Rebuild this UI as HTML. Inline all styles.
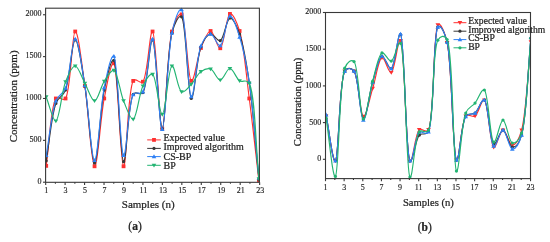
<!DOCTYPE html>
<html><head><meta charset="utf-8"><style>
html,body{margin:0;padding:0;background:#fff;width:550px;height:242px;overflow:hidden}
svg{display:block}
text{stroke:#222;stroke-width:0.22px;paint-order:stroke}
text.t{stroke:#222;stroke-width:0.15px;fill:#222}
</style></head><body>
<svg width="550" height="242" viewBox="0 0 550 242">
<rect width="550" height="242" fill="#fff"/>
<clipPath id="clipa"><rect x="45.60" y="5.20" width="213.80" height="177.10"/></clipPath>
<g clip-path="url(#clipa)">
<path d="M46.20,165.87 C49.42,143.41 50.55,106.02 55.87,98.48 C58.56,94.67 62.85,102.28 65.54,98.48 C70.85,90.98 71.86,32.19 75.21,31.50 C78.33,30.86 81.84,65.31 84.88,85.92 C88.35,109.48 91.23,165.62 94.55,166.29 C97.68,166.93 100.56,116.65 104.22,98.48 C107.16,83.91 111.07,60.47 113.89,63.32 C117.95,67.42 120.23,165.36 123.56,166.29 C126.69,167.16 127.49,89.54 133.23,80.90 C135.91,76.87 140.19,84.91 142.90,81.74 C147.75,76.05 149.64,29.36 152.57,31.50 C156.25,34.19 159.02,128.62 162.24,128.62 C165.46,128.62 167.15,49.65 171.91,31.50 C174.63,21.14 178.80,12.12 181.58,14.34 C185.85,17.76 187.55,78.86 191.25,80.90 C194.17,82.51 197.31,56.73 200.92,48.00 C203.88,40.82 207.37,30.98 210.59,31.00 C213.82,31.02 217.31,49.25 220.26,48.25 C223.89,47.01 226.29,15.17 229.93,13.92 C232.88,12.91 236.82,21.83 239.60,31.00 C243.89,45.18 246.15,74.46 249.27,98.48 C252.61,124.22 255.72,153.46 258.94,180.94" fill="none" stroke="#ff3030" stroke-width="1.15" stroke-linejoin="round"/>
<rect x="44.30" y="163.97" width="3.80" height="3.80" fill="#ff3030"/>
<rect x="53.97" y="96.58" width="3.80" height="3.80" fill="#ff3030"/>
<rect x="63.64" y="96.58" width="3.80" height="3.80" fill="#ff3030"/>
<rect x="73.31" y="29.60" width="3.80" height="3.80" fill="#ff3030"/>
<rect x="82.98" y="84.02" width="3.80" height="3.80" fill="#ff3030"/>
<rect x="92.65" y="164.39" width="3.80" height="3.80" fill="#ff3030"/>
<rect x="102.32" y="96.58" width="3.80" height="3.80" fill="#ff3030"/>
<rect x="111.99" y="61.42" width="3.80" height="3.80" fill="#ff3030"/>
<rect x="121.66" y="164.39" width="3.80" height="3.80" fill="#ff3030"/>
<rect x="131.33" y="79.00" width="3.80" height="3.80" fill="#ff3030"/>
<rect x="141.00" y="79.84" width="3.80" height="3.80" fill="#ff3030"/>
<rect x="150.67" y="29.60" width="3.80" height="3.80" fill="#ff3030"/>
<rect x="160.34" y="126.72" width="3.80" height="3.80" fill="#ff3030"/>
<rect x="170.01" y="29.60" width="3.80" height="3.80" fill="#ff3030"/>
<rect x="179.68" y="12.44" width="3.80" height="3.80" fill="#ff3030"/>
<rect x="189.35" y="79.00" width="3.80" height="3.80" fill="#ff3030"/>
<rect x="199.02" y="46.10" width="3.80" height="3.80" fill="#ff3030"/>
<rect x="208.69" y="29.10" width="3.80" height="3.80" fill="#ff3030"/>
<rect x="218.36" y="46.35" width="3.80" height="3.80" fill="#ff3030"/>
<rect x="228.03" y="12.02" width="3.80" height="3.80" fill="#ff3030"/>
<rect x="237.70" y="29.10" width="3.80" height="3.80" fill="#ff3030"/>
<rect x="247.37" y="96.58" width="3.80" height="3.80" fill="#ff3030"/>
<rect x="257.04" y="179.04" width="3.80" height="3.80" fill="#ff3030"/>
<path d="M46.20,160.85 C49.42,141.74 51.56,115.21 55.87,103.50 C58.64,95.97 62.74,97.31 65.54,90.11 C69.70,79.41 71.94,40.11 75.21,39.88 C78.39,39.65 81.89,67.74 84.88,85.92 C88.44,107.58 91.30,162.73 94.55,162.94 C97.74,163.16 100.35,108.12 104.22,90.11 C107.09,76.76 111.10,57.46 113.89,60.39 C118.11,64.82 120.08,159.83 123.56,161.69 C126.59,163.31 127.93,102.59 133.23,94.29 C135.92,90.08 140.19,96.43 142.90,92.62 C147.81,85.72 149.59,38.18 152.57,39.88 C156.14,41.91 159.06,128.96 162.24,128.62 C165.50,128.27 167.12,50.81 171.91,33.18 C174.63,23.18 178.84,14.16 181.58,16.85 C186.16,21.36 187.73,96.78 191.25,98.48 C194.26,99.93 196.71,57.76 200.92,46.99 C203.71,39.86 207.17,34.74 210.59,34.02 C213.65,33.37 217.36,41.99 220.26,40.71 C224.02,39.06 226.53,18.63 229.93,18.11 C233.01,17.64 236.76,26.14 239.60,34.02 C243.59,45.10 246.35,62.27 249.27,82.57 C252.98,108.32 255.72,147.32 258.94,179.69" fill="none" stroke="#383838" stroke-width="1.15" stroke-linejoin="round"/>
<circle cx="46.20" cy="160.85" r="1.60" fill="#383838"/>
<circle cx="55.87" cy="103.50" r="1.60" fill="#383838"/>
<circle cx="65.54" cy="90.11" r="1.60" fill="#383838"/>
<circle cx="75.21" cy="39.88" r="1.60" fill="#383838"/>
<circle cx="84.88" cy="85.92" r="1.60" fill="#383838"/>
<circle cx="94.55" cy="162.94" r="1.60" fill="#383838"/>
<circle cx="104.22" cy="90.11" r="1.60" fill="#383838"/>
<circle cx="113.89" cy="60.39" r="1.60" fill="#383838"/>
<circle cx="123.56" cy="161.69" r="1.60" fill="#383838"/>
<circle cx="133.23" cy="94.29" r="1.60" fill="#383838"/>
<circle cx="142.90" cy="92.62" r="1.60" fill="#383838"/>
<circle cx="152.57" cy="39.88" r="1.60" fill="#383838"/>
<circle cx="162.24" cy="128.62" r="1.60" fill="#383838"/>
<circle cx="171.91" cy="33.18" r="1.60" fill="#383838"/>
<circle cx="181.58" cy="16.85" r="1.60" fill="#383838"/>
<circle cx="191.25" cy="98.48" r="1.60" fill="#383838"/>
<circle cx="200.92" cy="46.99" r="1.60" fill="#383838"/>
<circle cx="210.59" cy="34.02" r="1.60" fill="#383838"/>
<circle cx="220.26" cy="40.71" r="1.60" fill="#383838"/>
<circle cx="229.93" cy="18.11" r="1.60" fill="#383838"/>
<circle cx="239.60" cy="34.02" r="1.60" fill="#383838"/>
<circle cx="249.27" cy="82.57" r="1.60" fill="#383838"/>
<circle cx="258.94" cy="179.69" r="1.60" fill="#383838"/>
<path d="M46.20,155.41 C49.42,137.27 51.59,112.12 55.87,100.99 C58.65,93.77 62.74,95.16 65.54,88.18 C69.71,77.80 71.96,39.19 75.21,39.04 C78.40,38.89 81.88,67.39 84.88,85.50 C88.41,106.80 91.31,160.16 94.55,160.27 C97.76,160.37 100.40,105.91 104.22,87.60 C107.10,73.76 111.09,53.38 113.89,56.20 C118.03,60.37 120.01,153.26 123.56,155.41 C126.55,157.22 128.15,102.93 133.23,94.71 C135.93,90.34 140.19,95.92 142.90,91.78 C147.77,84.36 149.59,37.27 152.57,39.04 C156.15,41.17 159.05,129.77 162.24,129.46 C165.50,129.14 167.49,52.92 171.91,32.93 C174.67,20.47 178.80,7.08 181.58,9.74 C185.88,13.85 187.67,94.66 191.25,96.72 C194.23,98.43 196.67,56.36 200.92,45.99 C203.70,39.20 207.36,34.04 210.59,34.02 C213.81,33.99 217.35,46.90 220.26,45.74 C224.00,44.23 226.52,16.61 229.93,16.02 C233.00,15.48 236.68,27.91 239.60,37.03 C243.32,48.64 246.37,62.90 249.27,82.15 C253.03,107.06 255.72,146.06 258.94,178.01" fill="none" stroke="#2e80f5" stroke-width="1.15" stroke-linejoin="round"/>
<path d="M46.20,153.11 L48.50,157.02 L43.90,157.02 Z" fill="#2e80f5"/>
<path d="M55.87,98.69 L58.17,102.60 L53.57,102.60 Z" fill="#2e80f5"/>
<path d="M65.54,85.88 L67.84,89.79 L63.24,89.79 Z" fill="#2e80f5"/>
<path d="M75.21,36.74 L77.51,40.65 L72.91,40.65 Z" fill="#2e80f5"/>
<path d="M84.88,83.20 L87.18,87.11 L82.58,87.11 Z" fill="#2e80f5"/>
<path d="M94.55,157.97 L96.85,161.88 L92.25,161.88 Z" fill="#2e80f5"/>
<path d="M104.22,85.30 L106.52,89.21 L101.92,89.21 Z" fill="#2e80f5"/>
<path d="M113.89,53.90 L116.19,57.81 L111.59,57.81 Z" fill="#2e80f5"/>
<path d="M123.56,153.11 L125.86,157.02 L121.26,157.02 Z" fill="#2e80f5"/>
<path d="M133.23,92.41 L135.53,96.32 L130.93,96.32 Z" fill="#2e80f5"/>
<path d="M142.90,89.48 L145.20,93.39 L140.60,93.39 Z" fill="#2e80f5"/>
<path d="M152.57,36.74 L154.87,40.65 L150.27,40.65 Z" fill="#2e80f5"/>
<path d="M162.24,127.16 L164.54,131.07 L159.94,131.07 Z" fill="#2e80f5"/>
<path d="M171.91,30.63 L174.21,34.54 L169.61,34.54 Z" fill="#2e80f5"/>
<path d="M181.58,7.44 L183.88,11.35 L179.28,11.35 Z" fill="#2e80f5"/>
<path d="M191.25,94.42 L193.55,98.33 L188.95,98.33 Z" fill="#2e80f5"/>
<path d="M200.92,43.69 L203.22,47.60 L198.62,47.60 Z" fill="#2e80f5"/>
<path d="M210.59,31.72 L212.89,35.63 L208.29,35.63 Z" fill="#2e80f5"/>
<path d="M220.26,43.44 L222.56,47.35 L217.96,47.35 Z" fill="#2e80f5"/>
<path d="M229.93,13.72 L232.23,17.63 L227.63,17.63 Z" fill="#2e80f5"/>
<path d="M239.60,34.73 L241.90,38.64 L237.30,38.64 Z" fill="#2e80f5"/>
<path d="M249.27,79.85 L251.57,83.76 L246.97,83.76 Z" fill="#2e80f5"/>
<path d="M258.94,175.71 L261.24,179.62 L256.64,179.62 Z" fill="#2e80f5"/>
<path d="M46.20,96.97 C49.42,104.98 52.86,121.85 55.87,121.00 C59.39,120.01 61.74,91.31 65.54,81.74 C68.43,74.46 72.03,65.87 75.21,66.00 C78.47,66.13 81.66,77.53 84.88,83.33 C88.11,89.14 91.37,100.97 94.55,100.82 C97.82,100.67 100.74,86.58 104.22,81.32 C107.25,76.75 111.00,69.17 113.89,70.43 C117.69,72.10 120.06,92.31 123.56,100.82 C126.58,108.16 130.25,120.12 133.23,119.24 C136.80,118.19 139.06,93.71 142.90,86.01 C145.78,80.24 149.74,72.76 152.57,74.37 C156.59,76.65 159.11,114.84 162.24,114.39 C165.57,113.91 168.28,67.43 171.91,66.00 C174.87,64.82 177.75,89.99 181.58,91.78 C184.46,93.13 188.16,87.40 191.25,84.25 C194.63,80.80 197.39,74.09 200.92,71.61 C203.92,69.49 207.56,67.97 210.59,69.01 C214.06,70.20 217.05,80.11 220.26,80.06 C223.50,80.01 226.73,68.44 229.93,68.51 C233.18,68.58 236.08,78.38 239.60,80.82 C242.61,82.90 246.60,78.32 249.27,83.41 C255.17,94.65 255.72,147.04 258.94,178.85" fill="none" stroke="#22b472" stroke-width="1.15" stroke-linejoin="round"/>
<path d="M46.20,99.27 L48.50,95.36 L43.90,95.36 Z" fill="#22b472"/>
<path d="M55.87,123.30 L58.17,119.39 L53.57,119.39 Z" fill="#22b472"/>
<path d="M65.54,84.04 L67.84,80.13 L63.24,80.13 Z" fill="#22b472"/>
<path d="M75.21,68.30 L77.51,64.39 L72.91,64.39 Z" fill="#22b472"/>
<path d="M84.88,85.63 L87.18,81.72 L82.58,81.72 Z" fill="#22b472"/>
<path d="M94.55,103.12 L96.85,99.21 L92.25,99.21 Z" fill="#22b472"/>
<path d="M104.22,83.62 L106.52,79.71 L101.92,79.71 Z" fill="#22b472"/>
<path d="M113.89,72.73 L116.19,68.82 L111.59,68.82 Z" fill="#22b472"/>
<path d="M123.56,103.12 L125.86,99.21 L121.26,99.21 Z" fill="#22b472"/>
<path d="M133.23,121.54 L135.53,117.63 L130.93,117.63 Z" fill="#22b472"/>
<path d="M142.90,88.31 L145.20,84.40 L140.60,84.40 Z" fill="#22b472"/>
<path d="M152.57,76.67 L154.87,72.76 L150.27,72.76 Z" fill="#22b472"/>
<path d="M162.24,116.69 L164.54,112.78 L159.94,112.78 Z" fill="#22b472"/>
<path d="M171.91,68.30 L174.21,64.39 L169.61,64.39 Z" fill="#22b472"/>
<path d="M181.58,94.08 L183.88,90.17 L179.28,90.17 Z" fill="#22b472"/>
<path d="M191.25,86.55 L193.55,82.64 L188.95,82.64 Z" fill="#22b472"/>
<path d="M200.92,73.91 L203.22,70.00 L198.62,70.00 Z" fill="#22b472"/>
<path d="M210.59,71.31 L212.89,67.40 L208.29,67.40 Z" fill="#22b472"/>
<path d="M220.26,82.36 L222.56,78.45 L217.96,78.45 Z" fill="#22b472"/>
<path d="M229.93,70.81 L232.23,66.90 L227.63,66.90 Z" fill="#22b472"/>
<path d="M239.60,83.12 L241.90,79.21 L237.30,79.21 Z" fill="#22b472"/>
<path d="M249.27,85.71 L251.57,81.80 L246.97,81.80 Z" fill="#22b472"/>
<path d="M258.94,181.15 L261.24,177.24 L256.64,177.24 Z" fill="#22b472"/>
</g>
<clipPath id="clipb"><rect x="325.50" y="9.50" width="205.00" height="169.10"/></clipPath>
<g clip-path="url(#clipb)">
<path d="M326.10,115.99 C329.20,130.92 332.60,162.81 335.41,160.77 C338.98,158.18 339.02,80.51 344.72,71.22 C347.29,67.02 351.41,68.09 354.03,71.22 C358.62,76.69 359.95,115.30 363.34,116.36 C366.24,117.27 369.59,98.07 372.65,88.47 C375.80,78.57 378.45,58.99 381.96,57.79 C384.80,56.81 388.45,73.58 391.27,72.54 C394.81,71.24 397.91,37.10 400.58,40.54 C404.76,45.94 405.68,155.53 409.89,160.99 C412.55,164.44 415.06,133.81 419.20,129.72 C421.87,127.09 425.94,134.20 428.51,129.72 C434.52,119.25 433.14,30.75 437.82,24.98 C440.43,21.75 444.53,31.43 447.13,42.59 C451.98,63.39 452.61,155.71 456.44,160.03 C459.17,163.12 461.20,121.43 465.75,116.07 C468.37,112.98 472.25,117.92 475.06,116.07 C478.64,113.71 481.63,98.41 484.37,99.99 C488.19,102.20 489.91,145.01 493.68,147.12 C496.43,148.65 499.83,130.25 502.99,130.09 C506.04,129.93 509.20,145.13 512.30,145.13 C515.40,145.13 518.99,139.35 521.61,130.09 C526.21,113.80 527.82,71.27 530.92,41.86" fill="none" stroke="#ff3030" stroke-width="1.15" stroke-linejoin="round"/>
<path d="M326.10,118.29 L328.40,114.38 L323.80,114.38 Z" fill="#ff3030"/>
<path d="M335.41,163.07 L337.71,159.16 L333.11,159.16 Z" fill="#ff3030"/>
<path d="M344.72,73.52 L347.02,69.61 L342.42,69.61 Z" fill="#ff3030"/>
<path d="M354.03,73.52 L356.33,69.61 L351.73,69.61 Z" fill="#ff3030"/>
<path d="M363.34,118.66 L365.64,114.75 L361.04,114.75 Z" fill="#ff3030"/>
<path d="M372.65,90.77 L374.95,86.86 L370.35,86.86 Z" fill="#ff3030"/>
<path d="M381.96,60.09 L384.26,56.18 L379.66,56.18 Z" fill="#ff3030"/>
<path d="M391.27,74.84 L393.57,70.93 L388.97,70.93 Z" fill="#ff3030"/>
<path d="M400.58,42.84 L402.88,38.93 L398.28,38.93 Z" fill="#ff3030"/>
<path d="M409.89,163.29 L412.19,159.38 L407.59,159.38 Z" fill="#ff3030"/>
<path d="M419.20,132.02 L421.50,128.11 L416.90,128.11 Z" fill="#ff3030"/>
<path d="M428.51,132.02 L430.81,128.11 L426.21,128.11 Z" fill="#ff3030"/>
<path d="M437.82,27.28 L440.12,23.37 L435.52,23.37 Z" fill="#ff3030"/>
<path d="M447.13,44.89 L449.43,40.98 L444.83,40.98 Z" fill="#ff3030"/>
<path d="M456.44,162.33 L458.74,158.42 L454.14,158.42 Z" fill="#ff3030"/>
<path d="M465.75,118.37 L468.05,114.46 L463.45,114.46 Z" fill="#ff3030"/>
<path d="M475.06,118.37 L477.36,114.46 L472.76,114.46 Z" fill="#ff3030"/>
<path d="M484.37,102.29 L486.67,98.38 L482.07,98.38 Z" fill="#ff3030"/>
<path d="M493.68,149.42 L495.98,145.51 L491.38,145.51 Z" fill="#ff3030"/>
<path d="M502.99,132.39 L505.29,128.48 L500.69,128.48 Z" fill="#ff3030"/>
<path d="M512.30,147.43 L514.60,143.52 L510.00,143.52 Z" fill="#ff3030"/>
<path d="M521.61,132.39 L523.91,128.48 L519.31,128.48 Z" fill="#ff3030"/>
<path d="M530.92,44.16 L533.22,40.25 L528.62,40.25 Z" fill="#ff3030"/>
<path d="M326.10,115.26 C329.20,130.43 332.59,162.78 335.41,160.77 C338.96,158.23 339.02,80.51 344.72,71.22 C347.29,67.02 351.42,68.02 354.03,71.22 C358.69,76.93 360.09,118.29 363.34,118.93 C366.32,119.51 369.36,93.11 372.65,82.23 C375.60,72.49 378.48,57.35 381.96,56.25 C384.81,55.34 388.50,70.01 391.27,68.72 C394.97,67.01 397.91,30.94 400.58,34.52 C404.75,40.11 405.40,154.70 409.89,160.99 C412.52,164.67 415.34,139.92 419.20,135.22 C421.93,131.91 425.94,136.77 428.51,131.11 C434.32,118.32 432.99,33.06 437.82,27.03 C440.42,23.79 444.54,31.99 447.13,42.23 C452.16,62.07 452.61,155.69 456.44,160.03 C459.17,163.13 461.27,122.56 465.75,116.07 C468.38,112.26 472.18,115.28 475.06,113.06 C478.48,110.42 481.65,98.36 484.37,99.99 C488.27,102.34 489.83,141.79 493.68,144.03 C496.41,145.62 499.96,129.84 502.99,130.09 C506.18,130.34 509.05,146.68 512.30,147.12 C515.28,147.52 519.02,143.50 521.61,135.08 C526.58,118.95 527.82,70.49 530.92,38.19" fill="none" stroke="#383838" stroke-width="1.15" stroke-linejoin="round"/>
<circle cx="326.10" cy="115.26" r="1.60" fill="#383838"/>
<circle cx="335.41" cy="160.77" r="1.60" fill="#383838"/>
<circle cx="344.72" cy="71.22" r="1.60" fill="#383838"/>
<circle cx="354.03" cy="71.22" r="1.60" fill="#383838"/>
<circle cx="363.34" cy="118.93" r="1.60" fill="#383838"/>
<circle cx="372.65" cy="82.23" r="1.60" fill="#383838"/>
<circle cx="381.96" cy="56.25" r="1.60" fill="#383838"/>
<circle cx="391.27" cy="68.72" r="1.60" fill="#383838"/>
<circle cx="400.58" cy="34.52" r="1.60" fill="#383838"/>
<circle cx="409.89" cy="160.99" r="1.60" fill="#383838"/>
<circle cx="419.20" cy="135.22" r="1.60" fill="#383838"/>
<circle cx="428.51" cy="131.11" r="1.60" fill="#383838"/>
<circle cx="437.82" cy="27.03" r="1.60" fill="#383838"/>
<circle cx="447.13" cy="42.23" r="1.60" fill="#383838"/>
<circle cx="456.44" cy="160.03" r="1.60" fill="#383838"/>
<circle cx="465.75" cy="116.07" r="1.60" fill="#383838"/>
<circle cx="475.06" cy="113.06" r="1.60" fill="#383838"/>
<circle cx="484.37" cy="99.99" r="1.60" fill="#383838"/>
<circle cx="493.68" cy="144.03" r="1.60" fill="#383838"/>
<circle cx="502.99" cy="130.09" r="1.60" fill="#383838"/>
<circle cx="512.30" cy="147.12" r="1.60" fill="#383838"/>
<circle cx="521.61" cy="135.08" r="1.60" fill="#383838"/>
<circle cx="530.92" cy="38.19" r="1.60" fill="#383838"/>
<path d="M326.10,114.89 C329.20,130.26 332.59,162.98 335.41,160.99 C338.95,158.49 339.03,80.84 344.72,71.44 C347.29,67.19 351.42,68.03 354.03,71.22 C358.73,76.97 360.09,119.55 363.34,120.18 C366.32,120.76 369.33,93.36 372.65,82.23 C375.59,72.38 378.48,57.35 381.96,56.25 C384.81,55.34 388.50,70.03 391.27,68.72 C394.98,66.97 397.91,30.42 400.58,34.01 C404.74,39.59 405.51,154.91 409.89,160.99 C412.53,164.66 415.15,136.39 419.20,132.44 C421.89,129.81 425.94,136.53 428.51,131.92 C434.52,121.16 432.98,33.11 437.82,27.03 C440.42,23.77 444.54,31.99 447.13,42.23 C452.16,62.07 452.60,155.65 456.44,160.03 C459.17,163.14 461.31,123.21 465.75,116.58 C468.38,112.65 472.18,115.38 475.06,113.06 C478.47,110.31 481.66,98.28 484.37,99.99 C488.31,102.48 489.88,143.94 493.68,146.09 C496.42,147.64 499.95,129.87 502.99,130.09 C506.17,130.31 509.06,148.62 512.30,149.02 C515.29,149.40 519.01,144.24 521.61,135.08 C526.44,118.08 527.82,70.00 530.92,37.46" fill="none" stroke="#2e80f5" stroke-width="1.15" stroke-linejoin="round"/>
<path d="M326.10,112.59 L328.40,116.50 L323.80,116.50 Z" fill="#2e80f5"/>
<path d="M335.41,158.69 L337.71,162.60 L333.11,162.60 Z" fill="#2e80f5"/>
<path d="M344.72,69.14 L347.02,73.05 L342.42,73.05 Z" fill="#2e80f5"/>
<path d="M354.03,68.92 L356.33,72.83 L351.73,72.83 Z" fill="#2e80f5"/>
<path d="M363.34,117.88 L365.64,121.79 L361.04,121.79 Z" fill="#2e80f5"/>
<path d="M372.65,79.93 L374.95,83.84 L370.35,83.84 Z" fill="#2e80f5"/>
<path d="M381.96,53.95 L384.26,57.86 L379.66,57.86 Z" fill="#2e80f5"/>
<path d="M391.27,66.42 L393.57,70.33 L388.97,70.33 Z" fill="#2e80f5"/>
<path d="M400.58,31.71 L402.88,35.62 L398.28,35.62 Z" fill="#2e80f5"/>
<path d="M409.89,158.69 L412.19,162.60 L407.59,162.60 Z" fill="#2e80f5"/>
<path d="M419.20,130.14 L421.50,134.05 L416.90,134.05 Z" fill="#2e80f5"/>
<path d="M428.51,129.62 L430.81,133.53 L426.21,133.53 Z" fill="#2e80f5"/>
<path d="M437.82,24.73 L440.12,28.64 L435.52,28.64 Z" fill="#2e80f5"/>
<path d="M447.13,39.93 L449.43,43.84 L444.83,43.84 Z" fill="#2e80f5"/>
<path d="M456.44,157.73 L458.74,161.64 L454.14,161.64 Z" fill="#2e80f5"/>
<path d="M465.75,114.28 L468.05,118.19 L463.45,118.19 Z" fill="#2e80f5"/>
<path d="M475.06,110.76 L477.36,114.67 L472.76,114.67 Z" fill="#2e80f5"/>
<path d="M484.37,97.69 L486.67,101.60 L482.07,101.60 Z" fill="#2e80f5"/>
<path d="M493.68,143.79 L495.98,147.70 L491.38,147.70 Z" fill="#2e80f5"/>
<path d="M502.99,127.79 L505.29,131.70 L500.69,131.70 Z" fill="#2e80f5"/>
<path d="M512.30,146.72 L514.60,150.63 L510.00,150.63 Z" fill="#2e80f5"/>
<path d="M521.61,132.78 L523.91,136.69 L519.31,136.69 Z" fill="#2e80f5"/>
<path d="M530.92,35.16 L533.22,39.07 L528.62,39.07 Z" fill="#2e80f5"/>
<path d="M326.10,118.20 C329.20,137.60 332.57,178.68 335.41,176.40 C338.92,173.58 339.06,82.81 344.72,68.21 C347.29,61.57 351.41,59.10 354.03,61.60 C358.66,66.03 359.99,117.87 363.34,119.00 C366.26,119.99 369.38,92.56 372.65,81.13 C375.62,70.74 378.22,54.80 381.96,52.94 C384.72,51.58 388.39,61.91 391.27,61.09 C394.68,60.12 397.99,39.45 400.58,43.33 C405.62,50.86 405.95,171.77 409.89,176.99 C412.60,180.58 414.64,138.08 419.20,131.92 C421.82,128.38 425.94,134.76 428.51,130.09 C434.18,119.80 432.12,49.83 437.82,40.17 C440.39,35.81 444.56,34.75 447.13,39.51 C453.63,51.55 452.76,166.83 456.44,171.04 C459.21,174.22 461.35,123.77 465.75,113.06 C468.39,106.63 472.04,106.79 475.06,103.08 C478.26,99.15 481.69,88.10 484.37,90.01 C488.44,92.91 490.01,140.08 493.68,142.05 C496.46,143.54 499.91,120.04 502.99,120.10 C506.11,120.17 508.80,141.83 512.30,143.01 C515.14,143.95 519.02,140.66 521.61,133.10 C526.73,118.13 527.82,69.83 530.92,38.19" fill="none" stroke="#22b472" stroke-width="1.15" stroke-linejoin="round"/>
<circle cx="326.10" cy="118.20" r="1.60" fill="#22b472"/>
<circle cx="335.41" cy="176.40" r="1.60" fill="#22b472"/>
<circle cx="344.72" cy="68.21" r="1.60" fill="#22b472"/>
<circle cx="354.03" cy="61.60" r="1.60" fill="#22b472"/>
<circle cx="363.34" cy="119.00" r="1.60" fill="#22b472"/>
<circle cx="372.65" cy="81.13" r="1.60" fill="#22b472"/>
<circle cx="381.96" cy="52.94" r="1.60" fill="#22b472"/>
<circle cx="391.27" cy="61.09" r="1.60" fill="#22b472"/>
<circle cx="400.58" cy="43.33" r="1.60" fill="#22b472"/>
<circle cx="409.89" cy="176.99" r="1.60" fill="#22b472"/>
<circle cx="419.20" cy="131.92" r="1.60" fill="#22b472"/>
<circle cx="428.51" cy="130.09" r="1.60" fill="#22b472"/>
<circle cx="437.82" cy="40.17" r="1.60" fill="#22b472"/>
<circle cx="447.13" cy="39.51" r="1.60" fill="#22b472"/>
<circle cx="456.44" cy="171.04" r="1.60" fill="#22b472"/>
<circle cx="465.75" cy="113.06" r="1.60" fill="#22b472"/>
<circle cx="475.06" cy="103.08" r="1.60" fill="#22b472"/>
<circle cx="484.37" cy="90.01" r="1.60" fill="#22b472"/>
<circle cx="493.68" cy="142.05" r="1.60" fill="#22b472"/>
<circle cx="502.99" cy="120.10" r="1.60" fill="#22b472"/>
<circle cx="512.30" cy="143.01" r="1.60" fill="#22b472"/>
<circle cx="521.61" cy="133.10" r="1.60" fill="#22b472"/>
<circle cx="530.92" cy="38.19" r="1.60" fill="#22b472"/>
</g>
<g font-family="Liberation Serif, serif" fill="#222">
<rect x="45.60" y="8.20" width="213.80" height="174.10" fill="none" stroke="#383838" stroke-width="1.1"/>
<line x1="43.00" y1="182.20" x2="45.60" y2="182.20" stroke="#383838" stroke-width="1.1"/>
<text x="41.40" y="183.90" font-size="8" text-anchor="end" class="t">0</text>
<line x1="43.00" y1="140.34" x2="45.60" y2="140.34" stroke="#383838" stroke-width="1.1"/>
<text x="41.40" y="142.04" font-size="8" text-anchor="end" class="t">500</text>
<line x1="43.00" y1="98.48" x2="45.60" y2="98.48" stroke="#383838" stroke-width="1.1"/>
<text x="41.40" y="100.18" font-size="8" text-anchor="end" class="t">1000</text>
<line x1="43.00" y1="56.62" x2="45.60" y2="56.62" stroke="#383838" stroke-width="1.1"/>
<text x="41.40" y="58.32" font-size="8" text-anchor="end" class="t">1500</text>
<line x1="43.00" y1="14.76" x2="45.60" y2="14.76" stroke="#383838" stroke-width="1.1"/>
<text x="41.40" y="16.46" font-size="8" text-anchor="end" class="t">2000</text>
<line x1="45.67" y1="182.30" x2="45.67" y2="184.90" stroke="#383838" stroke-width="1.1"/>
<text x="46.17" y="192.80" font-size="8" text-anchor="middle" class="t">1</text>
<line x1="55.40" y1="182.30" x2="55.40" y2="183.70" stroke="#383838" stroke-width="1.1"/>
<line x1="65.12" y1="182.30" x2="65.12" y2="184.90" stroke="#383838" stroke-width="1.1"/>
<text x="65.62" y="192.80" font-size="8" text-anchor="middle" class="t">3</text>
<line x1="74.85" y1="182.30" x2="74.85" y2="183.70" stroke="#383838" stroke-width="1.1"/>
<line x1="84.57" y1="182.30" x2="84.57" y2="184.90" stroke="#383838" stroke-width="1.1"/>
<text x="85.07" y="192.80" font-size="8" text-anchor="middle" class="t">5</text>
<line x1="94.30" y1="182.30" x2="94.30" y2="183.70" stroke="#383838" stroke-width="1.1"/>
<line x1="104.03" y1="182.30" x2="104.03" y2="184.90" stroke="#383838" stroke-width="1.1"/>
<text x="104.53" y="192.80" font-size="8" text-anchor="middle" class="t">7</text>
<line x1="113.75" y1="182.30" x2="113.75" y2="183.70" stroke="#383838" stroke-width="1.1"/>
<line x1="123.48" y1="182.30" x2="123.48" y2="184.90" stroke="#383838" stroke-width="1.1"/>
<text x="123.98" y="192.80" font-size="8" text-anchor="middle" class="t">9</text>
<line x1="133.20" y1="182.30" x2="133.20" y2="183.70" stroke="#383838" stroke-width="1.1"/>
<line x1="142.93" y1="182.30" x2="142.93" y2="184.90" stroke="#383838" stroke-width="1.1"/>
<text x="143.43" y="192.80" font-size="8" text-anchor="middle" class="t">11</text>
<line x1="152.66" y1="182.30" x2="152.66" y2="183.70" stroke="#383838" stroke-width="1.1"/>
<line x1="162.38" y1="182.30" x2="162.38" y2="184.90" stroke="#383838" stroke-width="1.1"/>
<text x="162.88" y="192.80" font-size="8" text-anchor="middle" class="t">13</text>
<line x1="172.11" y1="182.30" x2="172.11" y2="183.70" stroke="#383838" stroke-width="1.1"/>
<line x1="181.83" y1="182.30" x2="181.83" y2="184.90" stroke="#383838" stroke-width="1.1"/>
<text x="182.33" y="192.80" font-size="8" text-anchor="middle" class="t">15</text>
<line x1="191.56" y1="182.30" x2="191.56" y2="183.70" stroke="#383838" stroke-width="1.1"/>
<line x1="201.29" y1="182.30" x2="201.29" y2="184.90" stroke="#383838" stroke-width="1.1"/>
<text x="201.79" y="192.80" font-size="8" text-anchor="middle" class="t">17</text>
<line x1="211.01" y1="182.30" x2="211.01" y2="183.70" stroke="#383838" stroke-width="1.1"/>
<line x1="220.74" y1="182.30" x2="220.74" y2="184.90" stroke="#383838" stroke-width="1.1"/>
<text x="221.24" y="192.80" font-size="8" text-anchor="middle" class="t">19</text>
<line x1="230.46" y1="182.30" x2="230.46" y2="183.70" stroke="#383838" stroke-width="1.1"/>
<line x1="240.19" y1="182.30" x2="240.19" y2="184.90" stroke="#383838" stroke-width="1.1"/>
<text x="240.69" y="192.80" font-size="8" text-anchor="middle" class="t">21</text>
<line x1="249.92" y1="182.30" x2="249.92" y2="183.70" stroke="#383838" stroke-width="1.1"/>
<line x1="259.64" y1="182.30" x2="259.64" y2="184.90" stroke="#383838" stroke-width="1.1"/>
<text x="260.14" y="192.80" font-size="8" text-anchor="middle" class="t">23</text>
<rect x="325.50" y="12.50" width="205.00" height="166.10" fill="none" stroke="#383838" stroke-width="1.1"/>
<line x1="322.90" y1="159.30" x2="325.50" y2="159.30" stroke="#383838" stroke-width="1.1"/>
<text x="321.30" y="161.20" font-size="8" text-anchor="end" class="t">0</text>
<line x1="322.90" y1="122.60" x2="325.50" y2="122.60" stroke="#383838" stroke-width="1.1"/>
<text x="321.30" y="124.50" font-size="8" text-anchor="end" class="t">500</text>
<line x1="322.90" y1="85.90" x2="325.50" y2="85.90" stroke="#383838" stroke-width="1.1"/>
<text x="321.30" y="87.80" font-size="8" text-anchor="end" class="t">1000</text>
<line x1="322.90" y1="49.20" x2="325.50" y2="49.20" stroke="#383838" stroke-width="1.1"/>
<text x="321.30" y="51.10" font-size="8" text-anchor="end" class="t">1500</text>
<line x1="322.90" y1="12.50" x2="325.50" y2="12.50" stroke="#383838" stroke-width="1.1"/>
<text x="321.30" y="14.40" font-size="8" text-anchor="end" class="t">2000</text>
<line x1="325.50" y1="178.60" x2="325.50" y2="181.20" stroke="#383838" stroke-width="1.1"/>
<text x="325.50" y="190.00" font-size="8" text-anchor="middle" class="t">1</text>
<line x1="334.82" y1="178.60" x2="334.82" y2="180.00" stroke="#383838" stroke-width="1.1"/>
<line x1="344.14" y1="178.60" x2="344.14" y2="181.20" stroke="#383838" stroke-width="1.1"/>
<text x="344.14" y="190.00" font-size="8" text-anchor="middle" class="t">3</text>
<line x1="353.46" y1="178.60" x2="353.46" y2="180.00" stroke="#383838" stroke-width="1.1"/>
<line x1="362.78" y1="178.60" x2="362.78" y2="181.20" stroke="#383838" stroke-width="1.1"/>
<text x="362.78" y="190.00" font-size="8" text-anchor="middle" class="t">5</text>
<line x1="372.10" y1="178.60" x2="372.10" y2="180.00" stroke="#383838" stroke-width="1.1"/>
<line x1="381.42" y1="178.60" x2="381.42" y2="181.20" stroke="#383838" stroke-width="1.1"/>
<text x="381.42" y="190.00" font-size="8" text-anchor="middle" class="t">7</text>
<line x1="390.74" y1="178.60" x2="390.74" y2="180.00" stroke="#383838" stroke-width="1.1"/>
<line x1="400.06" y1="178.60" x2="400.06" y2="181.20" stroke="#383838" stroke-width="1.1"/>
<text x="400.06" y="190.00" font-size="8" text-anchor="middle" class="t">9</text>
<line x1="409.38" y1="178.60" x2="409.38" y2="180.00" stroke="#383838" stroke-width="1.1"/>
<line x1="418.70" y1="178.60" x2="418.70" y2="181.20" stroke="#383838" stroke-width="1.1"/>
<text x="418.70" y="190.00" font-size="8" text-anchor="middle" class="t">11</text>
<line x1="428.02" y1="178.60" x2="428.02" y2="180.00" stroke="#383838" stroke-width="1.1"/>
<line x1="437.34" y1="178.60" x2="437.34" y2="181.20" stroke="#383838" stroke-width="1.1"/>
<text x="437.34" y="190.00" font-size="8" text-anchor="middle" class="t">13</text>
<line x1="446.66" y1="178.60" x2="446.66" y2="180.00" stroke="#383838" stroke-width="1.1"/>
<line x1="455.98" y1="178.60" x2="455.98" y2="181.20" stroke="#383838" stroke-width="1.1"/>
<text x="455.98" y="190.00" font-size="8" text-anchor="middle" class="t">15</text>
<line x1="465.30" y1="178.60" x2="465.30" y2="180.00" stroke="#383838" stroke-width="1.1"/>
<line x1="474.62" y1="178.60" x2="474.62" y2="181.20" stroke="#383838" stroke-width="1.1"/>
<text x="474.62" y="190.00" font-size="8" text-anchor="middle" class="t">17</text>
<line x1="483.94" y1="178.60" x2="483.94" y2="180.00" stroke="#383838" stroke-width="1.1"/>
<line x1="493.26" y1="178.60" x2="493.26" y2="181.20" stroke="#383838" stroke-width="1.1"/>
<text x="493.26" y="190.00" font-size="8" text-anchor="middle" class="t">19</text>
<line x1="502.58" y1="178.60" x2="502.58" y2="180.00" stroke="#383838" stroke-width="1.1"/>
<line x1="511.90" y1="178.60" x2="511.90" y2="181.20" stroke="#383838" stroke-width="1.1"/>
<text x="511.90" y="190.00" font-size="8" text-anchor="middle" class="t">21</text>
<line x1="521.22" y1="178.60" x2="521.22" y2="180.00" stroke="#383838" stroke-width="1.1"/>
<line x1="530.54" y1="178.60" x2="530.54" y2="181.20" stroke="#383838" stroke-width="1.1"/>
<text x="530.54" y="190.00" font-size="8" text-anchor="middle" class="t">23</text>
<text x="148.2" y="207.6" font-size="11" text-anchor="middle">Samples (n)</text>
<text x="428.4" y="206.1" font-size="10.6" text-anchor="middle">Samples (n)</text>
<text x="135" y="230.2" font-size="11.5" text-anchor="middle">(<tspan font-weight="bold">a</tspan>)</text>
<text x="424.7" y="231" font-size="11.5" text-anchor="middle">(<tspan font-weight="bold">b</tspan>)</text>
<text transform="translate(17,96.4) rotate(-90)" font-size="11" text-anchor="middle">Concentration (ppm)</text>
<text transform="translate(301,101.95) rotate(-90)" font-size="10.6" text-anchor="middle">Concentration (ppm)</text>
<line x1="147.20" y1="139.90" x2="160.80" y2="139.90" stroke="#ff3030" stroke-width="1.0"/>
<rect x="152.10" y="138.00" width="3.80" height="3.80" fill="#ff3030"/>
<text x="163.50" y="140.90" font-size="10">Expected value</text>
<line x1="147.20" y1="148.40" x2="160.80" y2="148.40" stroke="#383838" stroke-width="1.0"/>
<circle cx="154.00" cy="148.40" r="1.60" fill="#383838"/>
<text x="163.50" y="150.20" font-size="10">Improved algorithm</text>
<line x1="147.20" y1="156.60" x2="160.80" y2="156.60" stroke="#2e80f5" stroke-width="1.0"/>
<path d="M154.00,154.30 L156.30,158.21 L151.70,158.21 Z" fill="#2e80f5"/>
<text x="163.50" y="159.60" font-size="10">CS-BP</text>
<line x1="147.20" y1="165.30" x2="160.80" y2="165.30" stroke="#22b472" stroke-width="1.0"/>
<path d="M154.00,167.60 L156.30,163.69 L151.70,163.69 Z" fill="#22b472"/>
<text x="163.50" y="168.90" font-size="10">BP</text>
<line x1="453.50" y1="22.70" x2="466.40" y2="22.70" stroke="#ff3030" stroke-width="1.0"/>
<path d="M459.95,25.00 L462.25,21.09 L457.65,21.09 Z" fill="#ff3030"/>
<text x="468.20" y="24.10" font-size="9.6">Expected value</text>
<line x1="453.50" y1="31.20" x2="466.40" y2="31.20" stroke="#383838" stroke-width="1.0"/>
<circle cx="459.95" cy="31.20" r="1.60" fill="#383838"/>
<text x="468.20" y="32.70" font-size="9.6">Improved algorithm</text>
<line x1="453.50" y1="39.60" x2="466.40" y2="39.60" stroke="#2e80f5" stroke-width="1.0"/>
<path d="M459.95,37.30 L462.25,41.21 L457.65,41.21 Z" fill="#2e80f5"/>
<text x="468.20" y="41.20" font-size="9.6">CS-BP</text>
<line x1="453.50" y1="47.80" x2="466.40" y2="47.80" stroke="#22b472" stroke-width="1.0"/>
<circle cx="459.95" cy="47.80" r="1.60" fill="#22b472"/>
<text x="468.20" y="49.50" font-size="9.6">BP</text>
</g>
</svg>
</body></html>
